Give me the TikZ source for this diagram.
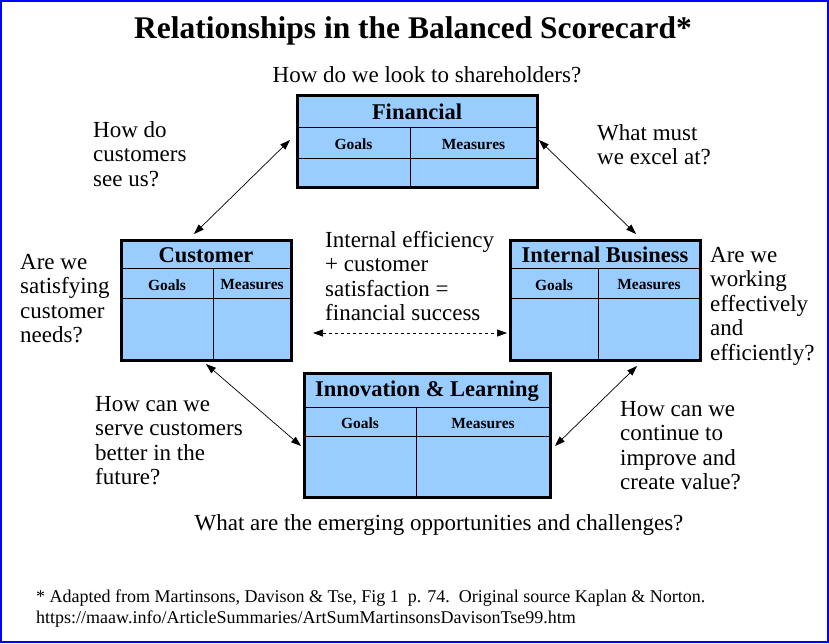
\documentclass[tikz,border=0pt]{standalone}
\usepackage{fontspec}
\setmainfont{Liberation Serif}
\usetikzlibrary{arrows.meta}
\definecolor{boxblue}{HTML}{99CCFF}
\definecolor{frameblue}{HTML}{0000FF}
\tikzset{x=1pt,y=-1pt,
 bsbox/.style={draw=black,line width=3pt,fill=boxblue},
 thin/.style={line width=1pt},
 hd/.style={font=\bfseries\fontsize{22.5}{24}\selectfont,inner sep=0},
 sub/.style={font=\bfseries\fontsize{15.5}{17}\selectfont,inner sep=0},
 q/.style={font=\fontsize{23}{24.5}\selectfont,align=left,inner sep=0,anchor=north west},
 conn/.style={{Triangle[length=10pt,width=7pt]}-{Triangle[length=10pt,width=7pt]},line width=0.7pt}}
\newcommand{\bsc}[9]{% name,x1,y1,x2,y2,yh,ys,xd,title
 \draw[bsbox] (#2,#3) rectangle (#4,#5);
 \draw[thin] (#2,#6) -- (#4,#6) (#2,#7) -- (#4,#7) (#8,#6) -- (#8,#5);
 \node[hd] at ({(#2+#4)/2},{(#3+#6)/2+1}) {#9};
 \node[sub] at ({(#2+#8)/2},{(#6+#7)/2+2}) {Goals};
 \node[sub] at ({(#8+#4)/2},{(#6+#7)/2+2}) {Measures};
 \coordinate (#1-l) at (#2,{(#3+#5)/2});
}
\begin{document}
\begin{tikzpicture}
\useasboundingbox (0,0) rectangle (829,643);
\fill[white] (0,0) rectangle (829,643);
\draw[frameblue,line width=2pt] (1,1) rectangle (828,642);
\node[font=\bfseries\fontsize{31.5}{34}\selectfont] (title) at (413,31) {Relationships in the Balanced Scorecard*};
\bsc{fin}{297}{95}{537}{187}{127}{158}{410}{Financial}
\bsc{cus}{121}{240}{291}{360}{268}{298}{213}{Customer}
\bsc{ib}{510}{240}{700}{360}{268}{298}{598}{Internal Business}
\bsc{inn}{304}{373}{550}{497}{407}{436}{416}{Innovation \& Learning}
\coordinate (a1) at (290,140); \coordinate (a2) at (194,234);
\coordinate (b1) at (539,140); \coordinate (b2) at (636,234);
\coordinate (c1) at (206,364); \coordinate (c2) at (301,446);
\coordinate (d1) at (637,366); \coordinate (d2) at (555,446);
\coordinate (e1) at (313,333); \coordinate (e2) at (507,333);
\draw[conn] (a1) -- (a2);
\draw[conn] (b1) -- (b2);
\draw[conn] (c1) -- (c2);
\draw[conn] (d1) -- (d2);
\draw[conn,dashed] (e1) -- (e2);
\node[q,anchor=center] (t1) at (427,75) {How do we look to shareholders?};
\node[q] (t2) at (93,121) {How do\\customers\\see us?};
\node[q] (t3) at (597,124) {What must\\we excel at?};
\node[q] (t4) at (20,254) {Are we\\satisfying\\customer\\needs?};
\node[q] (t5) at (325,231) {Internal efficiency\\+ customer\\satisfaction =\\financial success};
\node[q] (t6) at (710,247) {Are we\\working\\effectively\\and\\efficiently?};
\node[q] (t7) at (95,396) {How can we\\serve customers\\better in the\\future?};
\node[q] (t8) at (620,401) {How can we\\continue to\\improve and\\create value?};
\node[q,anchor=center] (t9) at (439,525) {What are the emerging opportunities and challenges?};
\node[font=\fontsize{18}{21}\selectfont,align=left,inner sep=0,anchor=north west] (fn) at (36,590) {* Adapted from Martinsons, Davison \& Tse, Fig 1\ \ p. 74.\ \ Original source Kaplan \& Norton.\\https://maaw.info/ArticleSummaries/ArtSumMartinsonsDavisonTse99.htm};
\end{tikzpicture}
\end{document}
